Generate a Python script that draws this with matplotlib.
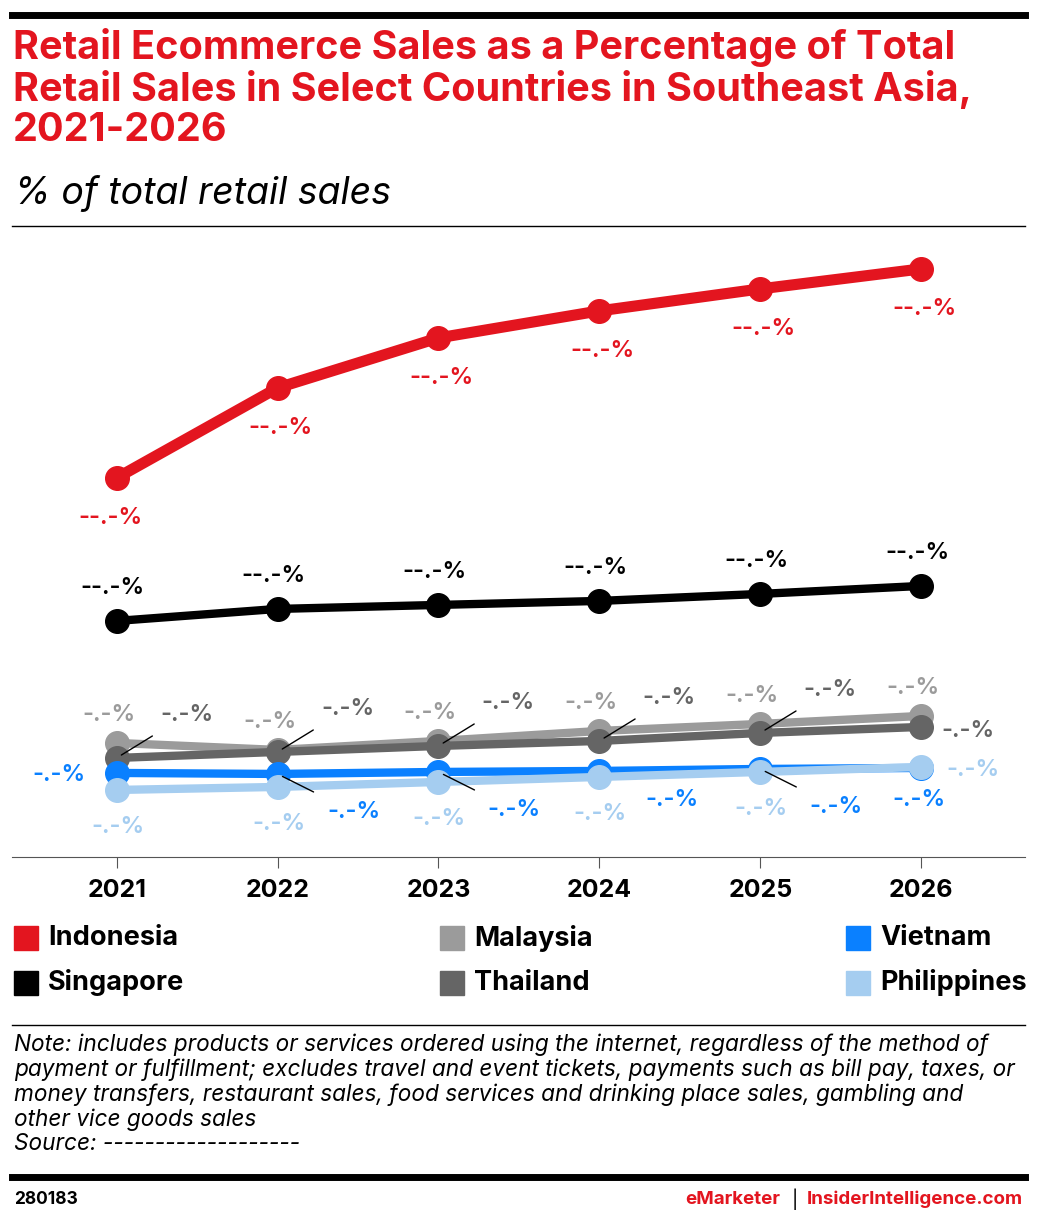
import matplotlib
matplotlib.use("Agg")
import matplotlib.pyplot as plt
from matplotlib.patches import Rectangle
from matplotlib.lines import Line2D

plt.rcParams['font.family'] = ['Inter', 'DejaVu Sans']

years = [2021, 2022, 2023, 2024, 2025, 2026]
indonesia   = [18.95, 23.45, 25.95, 27.3, 28.4, 29.4]
singapore   = [11.8, 12.4, 12.6, 12.8, 13.15, 13.55]
malaysia    = [5.7, 5.35, 5.8, 6.3, 6.65, 7.05]
thailand    = [4.95, 5.25, 5.55, 5.8, 6.2, 6.5]
vietnam     = [4.2, 4.15, 4.25, 4.3, 4.4, 4.45]
philippines = [3.35, 3.5, 3.75, 4.0, 4.25, 4.5]
labels_big = "--.-%"
labels_small = "-.-%"

RED = "#e3151f"; BLACK = "#000000"; MAL = "#9b9b9b"; THA = "#656565"
VIE = "#0a80ff"; PHI = "#a5cdf0"

fig = plt.figure(figsize=(10.38, 12.23), dpi=100)
ax = fig.add_axes([0.0116, 0.2993, 0.976, 0.516])
ax.set_xlim(2020.35, 2026.646)
ax.set_ylim(0, 31.55)

series = [
    (malaysia, MAL, 6), (thailand, THA, 6), (vietnam, VIE, 6),
    (philippines, PHI, 6), (singapore, BLACK, 6), (indonesia, RED, 8),
]
for vals, c, lw in series:
    ax.plot(years, vals, color=c, lw=lw, marker='o', ms=17, zorder=3, solid_capstyle='round')

def lab(x, y, txt, c, dx, dy, line=False):
    ap = dict(arrowstyle='-', color='black', lw=1, shrinkA=10, shrinkB=4) if line else None
    ax.annotate(txt, (x, y), xytext=(dx * 0.72, -dy * 0.72), textcoords='offset points',
                ha='center', va='center', color=c, fontsize=17, fontweight='semibold',
                arrowprops=ap, zorder=5)

for i, x in enumerate(years):
    lab(x, indonesia[i], labels_big, RED, -6 if i == 0 else 3, 40)
    lab(x, singapore[i], labels_big, BLACK, -4, -33)
    lab(x, malaysia[i], labels_small, MAL, -8, -28)
    if i < 5:
        lab(x, thailand[i], labels_small, THA, 70, -43, line=True)
    else:
        lab(x, thailand[i], labels_small, THA, 47, 4)
    if i == 0:
        lab(x, vietnam[i], labels_small, VIE, -58, 2)
    elif i == 5:
        lab(x, vietnam[i], labels_small, VIE, -2, 32)
    elif i == 3:
        lab(x, vietnam[i], labels_small, VIE, 73, 29)
    else:
        lab(x, vietnam[i], labels_small, VIE, 76, 38, line=True)
    if i == 5:
        lab(x, philippines[i], labels_small, PHI, 52, 3)
    else:
        lab(x, philippines[i], labels_small, PHI, 1, 37)

for s in ['top', 'right', 'left']:
    ax.spines[s].set_visible(False)
ax.spines['bottom'].set_color('#555555')
ax.set_yticks([])
ax.set_xticks(years)
ax.set_xticklabels([str(y) for y in years], fontsize=18, fontweight='bold')
ax.tick_params(axis='x', length=8, color='#555555', pad=8)

W, H = 1038, 1223
def fx(px): return px / W
def fy(py): return 1 - py / H

fig.add_artist(Line2D([fx(12), fx(1025)], [fy(15), fy(15)], color='black', lw=5))
fig.text(fx(13), fy(28), "Retail Ecommerce Sales as a Percentage of Total\nRetail Sales in Select Countries in Southeast Asia,\n2021-2026",
         color=RED, fontsize=28.5, fontweight='bold', va='top', linespacing=1.1)
fig.text(fx(14), fy(193), "% of total retail sales", fontsize=27, style='italic', va='center')
fig.add_artist(Line2D([fx(12), fx(1025)], [fy(226), fy(226)], color='black', lw=1))

legend = [("Indonesia", RED, 14, 938), ("Singapore", BLACK, 14, 983),
          ("Malaysia", MAL, 440, 938), ("Thailand", THA, 440, 983),
          ("Vietnam", VIE, 846, 938), ("Philippines", PHI, 846, 983)]
for name, c, x, y in legend:
    fig.add_artist(Rectangle((fx(x), fy(y + 12)), 24 / W, 24 / H, color=c))
    fig.text(fx(x + 34), fy(y), name, fontsize=19.5, fontweight='bold', va='center')

fig.add_artist(Line2D([fx(12), fx(1025)], [fy(1025), fy(1025)], color='black', lw=1))
fig.text(fx(14), fy(1033), "Note: includes products or services ordered using the internet, regardless of the method of\n"
         "payment or fulfillment; excludes travel and event tickets, payments such as bill pay, taxes, or\n"
         "money transfers, restaurant sales, food services and drinking place sales, gambling and\n"
         "other vice goods sales\nSource: -------------------",
         fontsize=16.3, style='italic', va='top', linespacing=1.15)
fig.add_artist(Line2D([fx(12), fx(1025)], [fy(1177), fy(1177)], color='black', lw=5))
fig.text(fx(14), fy(1199), "280183", fontsize=12.5, fontweight='bold', va='center')
fig.text(fx(1023), fy(1199), "InsiderIntelligence.com", fontsize=13.5, fontweight='bold', color=RED, va='center', ha='right')
fig.text(fx(795), fy(1199), "|", fontsize=13.5, va='center', ha='center')
fig.text(fx(780), fy(1199), "eMarketer", fontsize=13.5, fontweight='bold', color=RED, va='center', ha='right')

fig.savefig("out.png", dpi=100)
